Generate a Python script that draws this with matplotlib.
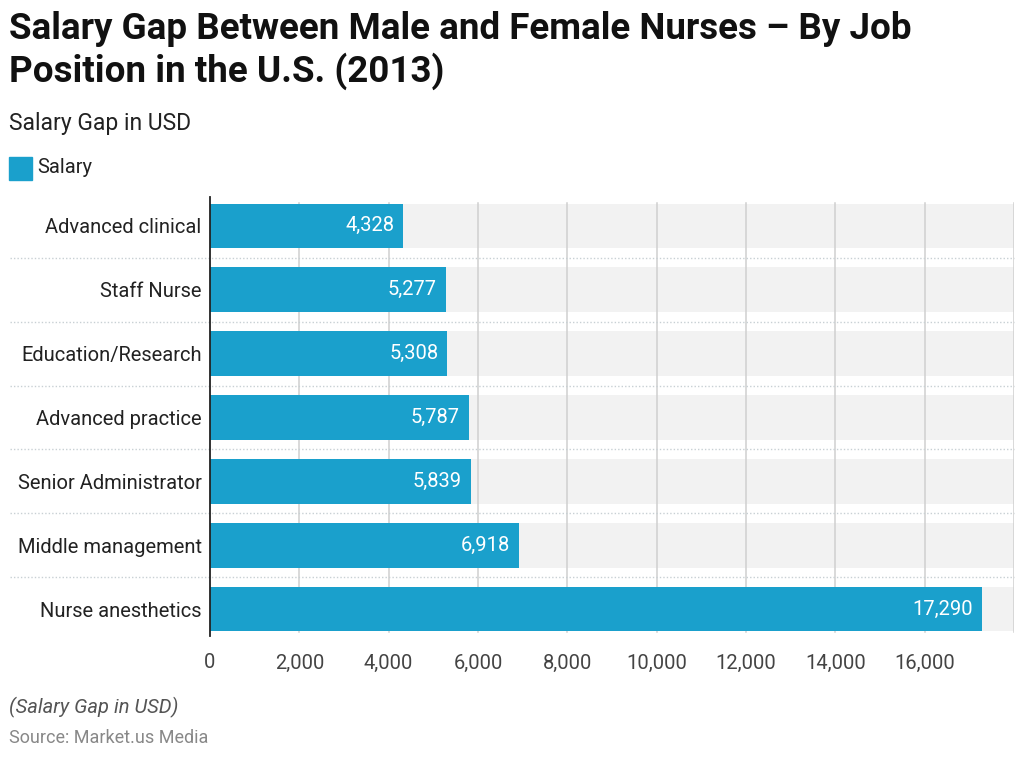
import matplotlib.pyplot as plt

plt.rcParams['font.family'] = ['Roboto', 'DejaVu Sans']

# data
positions = ['Advanced clinical', 'Staff Nurse', 'Education/Research', 'Advanced practice',
             'Senior Administrator', 'Middle management', 'Nurse anesthetics']
salary_gap = [4328, 5277, 5308, 5787, 5839, 6918, 17290]
x_ticks = [0, 2000, 4000, 6000, 8000, 10000, 12000, 14000, 16000]

bar_color = '#1aa0cc'
xmax = 18000

fig = plt.figure(figsize=(10.23, 7.59), dpi=100)
ax = fig.add_axes([0.2053, 0.1555, 0.7859, 0.589])

ypos = list(range(len(positions)))

# background bands
ax.barh(ypos, [xmax] * len(ypos), height=0.7, color='#f2f2f2', zorder=0)
# vertical grid
for v in x_ticks[1:] + [xmax]:
    ax.axvline(v, ymin=0.02, ymax=0.98, color='#cfcfcf', lw=1.1, zorder=1)
# dotted row separators
for i in range(len(positions) - 1):
    ax.plot([-0.249, 1], [i + 0.5, i + 0.5], transform=ax.get_yaxis_transform(),
            color='#c8d0d4', lw=1, ls=(0, (1, 1.5)), clip_on=False, zorder=1)

bars = ax.barh(ypos, salary_gap, height=0.7, color=bar_color, zorder=2)
for y, val in zip(ypos, salary_gap):
    ax.text(val - 200, y, f'{val:,}', color='white', fontsize=14.5,
            ha='right', va='center', zorder=3)

ax.set_xlim(0, xmax)
ax.set_ylim(6.5, -0.5)
ax.set_yticks(ypos)
ax.set_yticklabels(positions, fontsize=14.5, color='#222222')
ax.set_xticks(x_ticks)
ax.set_xticklabels([f'{t:,}' for t in x_ticks], fontsize=14.5, color='#444444')
ax.tick_params(length=0, pad=6)
ax.tick_params(axis='x', pad=9)
for s in ['top', 'right', 'bottom']:
    ax.spines[s].set_visible(False)
ax.spines['left'].set_color('#222222')
ax.spines['left'].set_linewidth(1.3)
ax.spines['left'].set_bounds(-0.45, 6.42)

# titles
fig.text(0.009, 0.985, 'Salary Gap Between Male and Female Nurses – By Job\nPosition in the U.S. (2013)',
         fontsize=26.5, fontweight='bold', color='#111111', va='top', linespacing=1.17)
fig.text(0.009, 0.837, 'Salary Gap in USD', fontsize=16.5, color='#222222', va='center')
fig.patches.append(plt.Rectangle((0.009, 0.763), 0.0225, 0.0303, transform=fig.transFigure,
                                 color=bar_color, figure=fig))
fig.text(0.036, 0.779, 'Salary', fontsize=14.5, color='#222222', va='center')

# footer
fig.text(0.009, 0.0685, '(Salary Gap in USD)', fontsize=14.5, style='italic', color='#555555', va='center')
fig.text(0.009, 0.0277, 'Source: Market.us Media', fontsize=13, color='#888888', va='center')

fig.savefig('out.png', dpi=100)
